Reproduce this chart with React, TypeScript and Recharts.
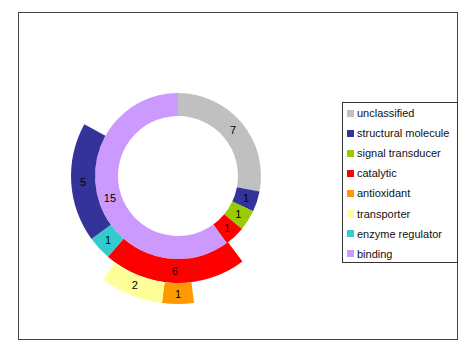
import React from 'react';
import { PieChart, Pie, Cell, Legend } from 'recharts';

const categories = ['unclassified', 'structural molecule', 'signal transducer', 'catalytic', 'antioxidant', 'transporter', 'enzyme regulator', 'binding'];
const categoryColors = ['#C0C0C0', '#333399', '#99CC00', '#FF0000', '#FF9900', '#FFFF99', '#33CCCC', '#CC99FF'];

// inner ring (clockwise from top)
const innerNames = ['unclassified', 'structural molecule', 'signal transducer', 'catalytic', 'binding'];
const innerValues = [7, 1, 1, 1, 15];

// middle ring ('' = empty gap)
const middleNames = ['', 'catalytic', 'enzyme regulator', 'structural molecule', ''];
const middleValues = [11, 6, 1, 5, 4.7];

// outer ring ('' = empty gap)
const outerNames = ['', 'antioxidant', 'transporter', ''];
const outerValues = [12, 1, 2, 10];

const build = (names: string[], values: number[]) => names.map((n, i) => ({ name: n, value: values[i] }));
const innerData = build(innerNames, innerValues);
const middleData = build(middleNames, middleValues);
const outerData = build(outerNames, outerValues);

const colorOf = (name: string) => {
  const i = categories.indexOf(name);
  return i >= 0 ? categoryColors[i] : 'transparent';
};

const RAD = Math.PI / 180;
const renderLabel = (p: any) => {
  const name = p.name ?? p.payload?.name;
  if (!name) return null;
  const r = (p.innerRadius + p.outerRadius) / 2;
  const x = p.cx + r * Math.cos(-p.midAngle * RAD);
  const y = p.cy + r * Math.sin(-p.midAngle * RAD);
  return (
    <text x={x} y={y} textAnchor="middle" dominantBaseline="central" fontSize={11} fill="#000" fontFamily="'Liberation Sans', Arial, sans-serif">
      {p.value}
    </text>
  );
};

const LegendBox = () => (
  <div style={{ width: 116, height: 161, border: '1px solid #333', background: '#fff', boxSizing: 'border-box', paddingTop: 0 }}>
    {categories.map((c, i) => (
      <div key={c} style={{ display: 'flex', alignItems: 'center', height: 20.1, fontSize: 11, fontFamily: "'Liberation Sans', Arial, sans-serif", color: '#111', whiteSpace: 'nowrap' }}>
        <span style={{ display: 'inline-block', width: 7, height: 7, background: categoryColors[i], marginLeft: 4, marginRight: 3 }} />
        {c}
      </div>
    ))}
  </div>
);

const M = { top: 0, right: 0, bottom: 0, left: 0 };

export default function App() {
  return (
    <div style={{ position: 'absolute', left: 0, top: 0, width: 474, height: 355, background: '#fff' }}>
      <div style={{ position: 'absolute', left: 18, top: 12, width: 440, height: 328, border: '1px solid #444', boxSizing: 'border-box' }} />
      <PieChart width={474} height={355} margin={M} style={{ position: 'absolute', left: 0, top: 0 }}>
        <Pie data={innerData} dataKey="value" nameKey="name" cx={178} cy={176} innerRadius={60} outerRadius={83}
          startAngle={90} endAngle={-270} stroke="none" isAnimationActive={false} labelLine={false} label={renderLabel}>
          {innerData.map((d, i) => <Cell key={i} fill={colorOf(d.name)} />)}
        </Pie>
        <Pie data={middleData} dataKey="value" nameKey="name" cx={178} cy={176} innerRadius={83} outerRadius={107}
          startAngle={90} endAngle={-270} stroke="none" isAnimationActive={false} labelLine={false} label={renderLabel}>
          {middleData.map((d, i) => <Cell key={i} fill={colorOf(d.name)} />)}
        </Pie>
        <Pie data={outerData} dataKey="value" nameKey="name" cx={178} cy={176} innerRadius={107} outerRadius={128}
          startAngle={90} endAngle={-270} stroke="none" isAnimationActive={false} labelLine={false} label={renderLabel}>
          {outerData.map((d, i) => <Cell key={i} fill={colorOf(d.name)} />)}
        </Pie>
        <Legend content={() => <LegendBox />} wrapperStyle={{ position: 'absolute', left: 342, top: 102, width: 116, bottom: 'auto', right: 'auto' }} />
      </PieChart>
    </div>
  );
}
